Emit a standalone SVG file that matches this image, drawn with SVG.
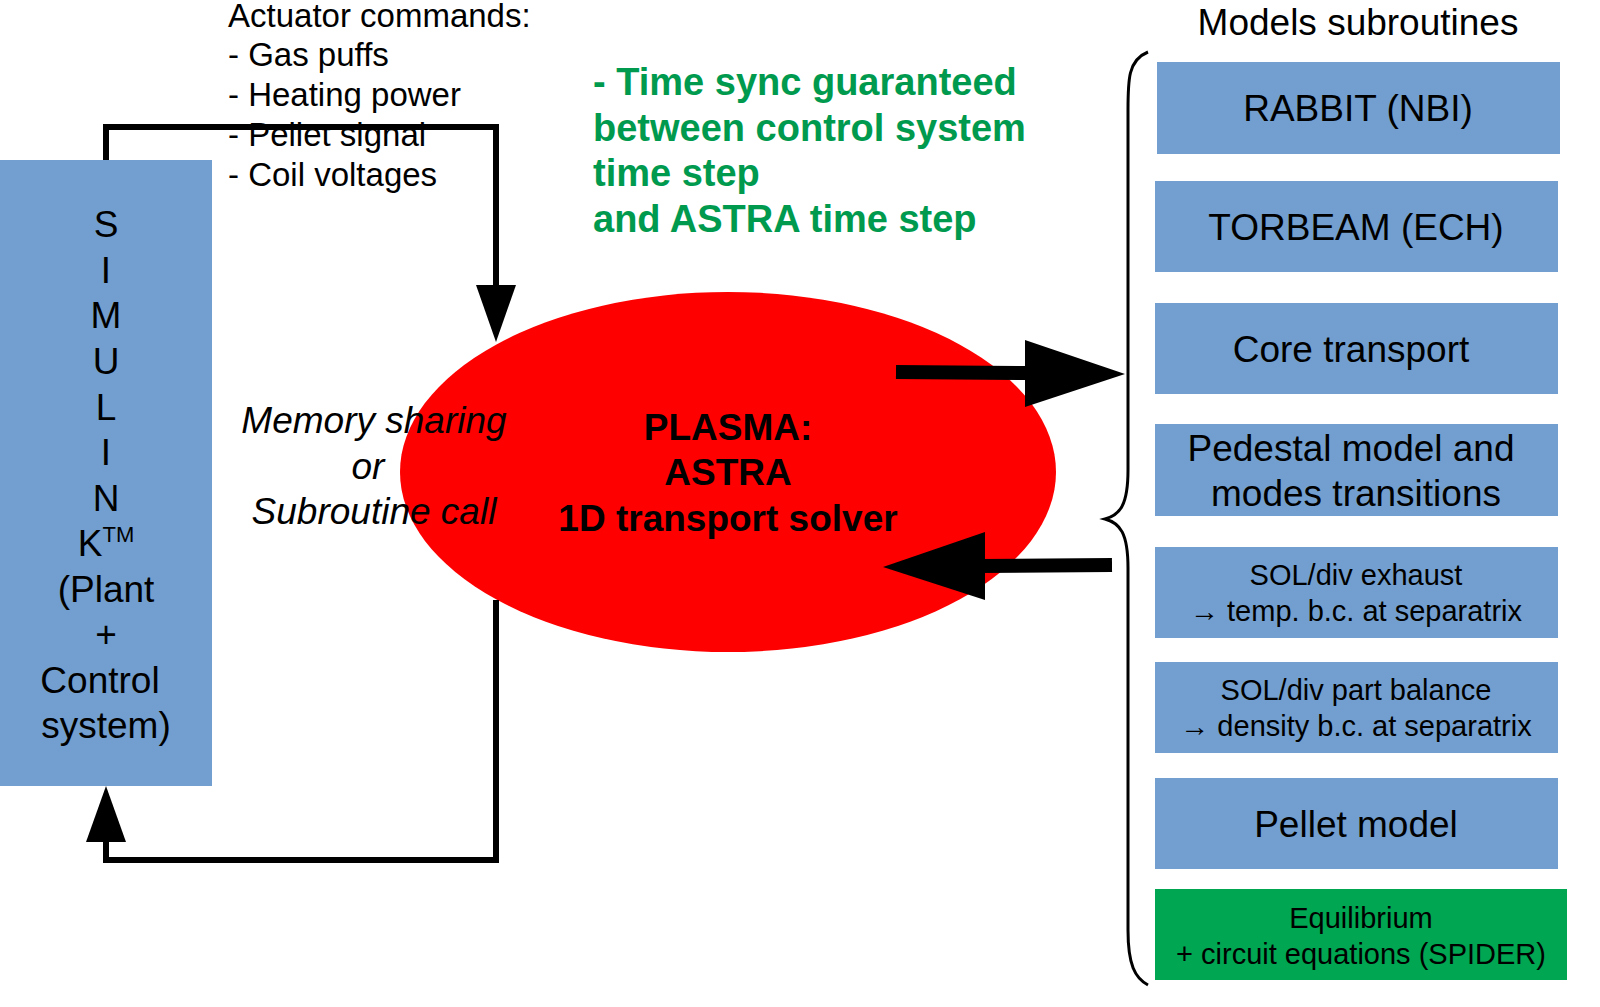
<svg xmlns="http://www.w3.org/2000/svg" width="1600" height="1007" viewBox="0 0 1600 1007">
<style>
text{font-family:"Liberation Sans",Arial,sans-serif;fill:#000}
.b{fill:#729fcf}
.t{font-size:37px;text-anchor:middle}
.s{font-size:29px;text-anchor:middle}
.g{font-size:38px;font-weight:bold;fill:#009a4f}
.k{font-size:33px}
</style>
<rect width="1600" height="1007" fill="#fff"/>
<g id="simulink">
<rect class="b" x="0" y="160" width="212" height="626"/>
<text class="t" x="106" y="237">S</text>
<text class="t" x="106" y="283">I</text>
<text class="t" x="106" y="328">M</text>
<text class="t" x="106" y="374">U</text>
<text class="t" x="106" y="420">L</text>
<text class="t" x="106" y="465">I</text>
<text class="t" x="106" y="511">N</text>
<text class="t" x="106" y="556">K<tspan font-size="22" dy="-14">TM</tspan></text>
<text class="t" x="106" y="602">(Plant</text>
<text class="t" x="106" y="647">+</text>
<text class="t" x="100" y="693">Control</text>
<text class="t" x="106" y="738">system)</text>
</g>
<g id="actuators">
<text class="k" x="228" y="27">Actuator commands:</text>
<text class="k" x="228" y="66">- Gas puffs</text>
<text class="k" x="228" y="106">- Heating power</text>
<text class="k" x="228" y="146">- Pellet signal</text>
<text class="k" x="228" y="186">- Coil voltages</text>
</g>
<g id="note">
<text class="g" x="593" y="95">- Time sync guaranteed</text>
<text class="g" x="593" y="141">between control system</text>
<text class="g" x="593" y="186">time step</text>
<text class="g" x="593" y="232">and ASTRA time step</text>
</g>
<g id="plasma">
<ellipse cx="728" cy="472" rx="328" ry="180" fill="#ff0000"/>
<text class="t" x="728" y="440" font-weight="bold">PLASMA:</text>
<text class="t" x="728" y="485" font-weight="bold">ASTRA</text>
<text class="t" x="728" y="531" font-weight="bold">1D transport solver</text>
</g>
<g id="memory">
<text class="t" x="374" y="433" font-style="italic">Memory sharing</text>
<text class="t" x="368" y="479" font-style="italic">or</text>
<text class="t" x="374" y="524" font-style="italic">Subroutine call</text>
</g>
<g id="models">
<text class="t" x="1358" y="35">Models subroutines</text>
<g id="rabbit"><rect class="b" x="1157" y="62" width="403" height="92"/><text class="t" x="1358" y="121">RABBIT (NBI)</text></g>
<g id="torbeam"><rect class="b" x="1155" y="181" width="403" height="91"/><text class="t" x="1356" y="240">TORBEAM (ECH)</text></g>
<g id="core"><rect class="b" x="1155" y="303" width="403" height="91"/><text class="t" x="1351" y="362">Core transport</text></g>
<g id="pedestal"><rect class="b" x="1155" y="424" width="403" height="92"/><text class="t" x="1351" y="461">Pedestal model and</text><text class="t" x="1356" y="506">modes transitions</text></g>
<g id="solex"><rect class="b" x="1155" y="547" width="403" height="91"/><text class="s" x="1356" y="585">SOL/div exhaust</text><text class="s" x="1356" y="621">→ temp. b.c. at separatrix</text></g>
<g id="solpart"><rect class="b" x="1155" y="662" width="403" height="91"/><text class="s" x="1356" y="700">SOL/div part balance</text><text class="s" x="1356" y="736">→ density b.c. at separatrix</text></g>
<g id="pellet"><rect class="b" x="1155" y="778" width="403" height="91"/><text class="t" x="1356" y="837">Pellet model</text></g>
<g id="equil"><rect x="1155" y="889" width="412" height="91" fill="#00a651"/><text class="s" x="1361" y="928">Equilibrium</text><text class="s" x="1361" y="964">+ circuit equations (SPIDER)</text></g>
</g>
<g id="connectors" fill="none" stroke="#000" stroke-width="6">
<polyline points="106,160 106,127 496,127 496,290"/>
<polygon points="476,285 516,285 496,342" fill="#000" stroke="none"/>
<polyline points="496,600 496,860 106,860 106,838"/>
<polygon points="86,842 126,842 106,786" fill="#000" stroke="none"/>
<line x1="896" y1="372" x2="1030" y2="373" stroke-width="14"/>
<polygon points="1025,340 1125,374 1025,407" fill="#000" stroke="none"/>
<line x1="1112" y1="565" x2="980" y2="566" stroke-width="14"/>
<polygon points="985,532 883,567 985,600" fill="#000" stroke="none"/>
<path d="M1148,52 C1128,60 1128,80 1128,110 L1128,470 C1128,505 1120,515 1105,519 C1120,523 1128,533 1128,568 L1128,930 C1128,965 1135,978 1148,985" stroke-width="3"/>
</g>
</svg>
